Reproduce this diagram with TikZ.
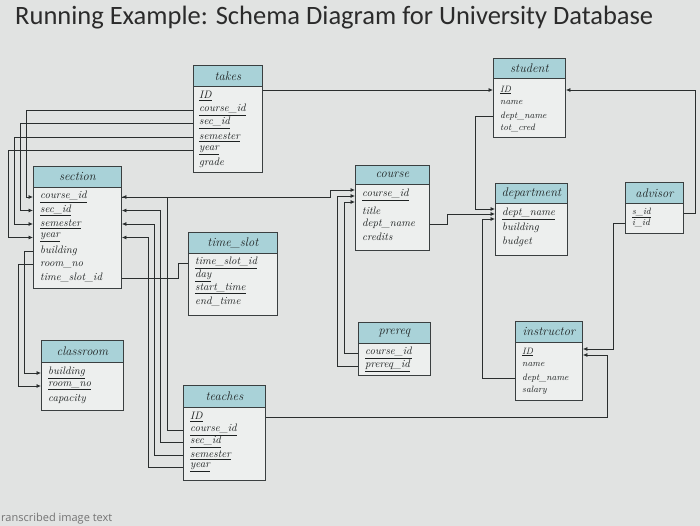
\documentclass[tikz,border=0pt]{standalone}
\usepackage{fontspec}
\newfontfamily\carlito{Carlito}
\newfontfamily\opensans{Open Sans}
\usetikzlibrary{arrows.meta}
\definecolor{bgc}{HTML}{E1E3E2}
\definecolor{headc}{HTML}{A9D2D8}
\definecolor{bodyc}{HTML}{EDEFEE}
\definecolor{boxc}{HTML}{3A3F40}
\definecolor{linec}{HTML}{2A2E2E}
\definecolor{txtc}{HTML}{1E2222}
\definecolor{titc}{HTML}{2B2B2B}
\tikzset{
  tbody/.style={draw=boxc, fill=bodyc, line width=0.9pt, inner sep=0pt, anchor=north west},
  thead/.style={draw=boxc, fill=headc, line width=0.9pt, inner sep=0pt, anchor=north west, text=txtc, font=\itshape\fontsize{12.5}{12.5}\selectfont},
  attr/.style={anchor=west, inner sep=0pt, text=txtc, font=\itshape\fontsize{10.8}{10.8}\selectfont},
  sattr/.style={attr, font=\itshape\fontsize{9.2}{9.2}\selectfont},
  fk/.style={draw=linec, line width=0.75pt, -{Latex[length=4.5pt,width=4pt]}},
  ln/.style={draw=linec, line width=0.75pt},
}
\begin{document}
\begin{tikzpicture}[x=1pt,y=-1pt]
\useasboundingbox (0,0) rectangle (700,526);
\fill[bgc] (0,0) rectangle (700,526);
\clip (0,0) rectangle (700,526);

\node[anchor=west, inner sep=0pt, text=titc, font=\carlito\fontsize{26.5}{26.5}\selectfont] (title) at (15,18) {Running Example: Schema Diagram for University Database};

% ---------- takes
\node[thead, minimum width=69pt, minimum height=21pt] (takes-h) at (193,65) {takes};
\node[tbody, minimum width=69pt, minimum height=86pt] (takes) at (193,86) {};
\node[attr] (tk-ID) at (199,96) {\underline{ID}};
\node[attr] (tk-cid) at (199,110) {\underline{course\_id}};
\node[attr] (tk-sid) at (199,123) {\underline{sec\_id}};
\node[attr] (tk-sem) at (199,137) {\underline{semester}};
\node[attr] (tk-yr) at (199,150) {\underline{year}};
\node[attr] (tk-gr) at (199,163) {grade};

% ---------- student
\node[thead, minimum width=72pt, minimum height=20pt] (student-h) at (493,58) {student};
\node[tbody, minimum width=72pt, minimum height=59pt] (student) at (493,78) {};
\node[sattr] (st-ID) at (500,90) {\underline{ID}};
\node[sattr] (st-nm) at (500,103) {name};
\node[sattr] (st-dn) at (500,116) {dept\_name};
\node[sattr] (st-tc) at (500,128) {tot\_cred};

% ---------- section
\node[thead, minimum width=88pt, minimum height=21pt] (section-h) at (33,166) {section};
\node[tbody, minimum width=88pt, minimum height=101pt] (section) at (33,187) {};
\node[attr] (se-cid) at (40,197) {\underline{course\_id}};
\node[attr] (se-sid) at (40,210.5) {\underline{sec\_id}};
\node[attr] (se-sem) at (40,224) {\underline{semester}};
\node[attr] (se-yr) at (40,237.5) {\underline{year}};
\node[attr] (se-bd) at (40,251) {building};
\node[attr] (se-rn) at (40,264.5) {room\_no};
\node[attr] (se-ts) at (40,278) {time\_slot\_id};

% ---------- course
\node[thead, minimum width=74pt, minimum height=19pt] (course-h) at (355,165) {course};
\node[tbody, minimum width=74pt, minimum height=66pt] (course) at (355,184) {};
\node[attr] (co-cid) at (362,195) {\underline{course\_id}};
\node[attr] (co-ti) at (362,211) {title};
\node[attr] (co-dn) at (362,224) {dept\_name};
\node[attr] (co-cr) at (362,237) {credits};

% ---------- department
\node[thead, minimum width=72pt, minimum height=20pt] (department-h) at (495,183) {department};
\node[tbody, minimum width=72pt, minimum height=52pt] (department) at (495,203) {};
\node[attr] (de-dn) at (502,214) {\underline{dept\_name}};
\node[attr] (de-bd) at (502,228) {building};
\node[attr] (de-bu) at (502,242) {budget};

% ---------- advisor
\node[thead, minimum width=58pt, minimum height=21pt] (advisor-h) at (625,182) {advisor};
\node[tbody, minimum width=58pt, minimum height=30pt] (advisor) at (625,203) {};
\node[sattr] (ad-s) at (632,213) {\underline{s\_id}};
\node[sattr] (ad-i) at (632,223) {i\_id};

% ---------- time_slot
\node[thead, minimum width=89pt, minimum height=21pt] (timeslot-h) at (188,232) {time\_slot};
\node[tbody, minimum width=89pt, minimum height=62pt] (timeslot) at (188,253) {};
\node[attr] (ts-id) at (195,263) {\underline{time\_slot\_id}};
\node[attr] (ts-dy) at (195,276) {\underline{day}};
\node[attr] (ts-st) at (195,289) {\underline{start\_time}};
\node[attr] (ts-et) at (195,302) {end\_time};

% ---------- prereq
\node[thead, minimum width=72pt, minimum height=21pt] (prereq-h) at (358,322) {prereq};
\node[tbody, minimum width=72pt, minimum height=32pt] (prereq) at (358,343) {};
\node[attr] (pr-cid) at (365,353) {\underline{course\_id}};
\node[attr] (pr-pid) at (365,366) {\underline{prereq\_id}};

% ---------- instructor
\node[thead, minimum width=67pt, minimum height=21pt] (instructor-h) at (515,321) {instructor};
\node[tbody, minimum width=67pt, minimum height=58pt] (instructor) at (515,342) {};
\node[sattr] (in-ID) at (522,352) {\underline{ID}};
\node[sattr] (in-nm) at (522,365) {name};
\node[sattr] (in-dn) at (522,378) {dept\_name};
\node[sattr] (in-sa) at (522,390) {salary};

% ---------- classroom
\node[thead, minimum width=82pt, minimum height=22pt] (classroom-h) at (41,340) {classroom};
\node[tbody, minimum width=82pt, minimum height=48pt] (classroom) at (41,362) {};
\node[attr] (cl-bd) at (48,373) {\underline{building}};
\node[attr] (cl-rn) at (48,386) {\underline{room\_no}};
\node[attr] (cl-ca) at (48,399) {capacity};

% ---------- teaches
\node[thead, minimum width=82pt, minimum height=22pt] (teaches-h) at (183,385) {teaches};
\node[tbody, minimum width=82pt, minimum height=73pt] (teaches) at (183,407) {};
\node[attr] (te-ID) at (190,417) {\underline{ID}};
\node[attr] (te-cid) at (190,430) {\underline{course\_id}};
\node[attr] (te-sid) at (190,442) {\underline{sec\_id}};
\node[attr] (te-sem) at (190,455) {\underline{semester}};
\node[attr] (te-yr) at (190,467) {\underline{year}};

% ---------- routing coordinates
\coordinate (x8) at (8,0);   \coordinate (x14) at (14,0);
\coordinate (x18) at (18,0); \coordinate (x20) at (20,0);
\coordinate (x24) at (24,0); \coordinate (x26) at (26,0);
\coordinate (x148) at (148,0); \coordinate (x154) at (154,0);
\coordinate (x160) at (160,0); \coordinate (x167) at (167,0);
\coordinate (x178) at (178,0); \coordinate (x330) at (330,0);
\coordinate (x337) at (337,0); \coordinate (x344) at (344,0);
\coordinate (x447) at (447,0); \coordinate (x475) at (475,0);
\coordinate (x482) at (482,0); \coordinate (x607) at (607,0);
\coordinate (x613) at (613,0); \coordinate (x695) at (695,0);
\coordinate (ca1) at (0,190); \coordinate (ca2) at (0,196); \coordinate (ca3) at (0,202);
\coordinate (da1) at (0,209); \coordinate (da2) at (0,214); \coordinate (da3) at (0,219);
\coordinate (ia1) at (0,349); \coordinate (ia2) at (0,355);

% ---------- connectors
% takes -> student
\draw[fk] (takes.east |- st-ID) -- (student.west |- st-ID);
% takes -> section
\draw[fk] (takes.west |- tk-cid) -- (x26 |- tk-cid) -- (x26 |- se-cid) -- (section.west |- se-cid);
\draw[fk] (takes.west |- tk-sid) -- (x20 |- tk-sid) -- (x20 |- se-sid) -- (section.west |- se-sid);
\draw[fk] (takes.west |- tk-sem) -- (x14 |- tk-sem) -- (x14 |- se-sem) -- (section.west |- se-sem);
\draw[fk] (takes.west |- tk-yr) -- (x8 |- tk-yr) -- (x8 |- se-yr) -- (section.west |- se-yr);
% section -> classroom
\draw[fk] (section.west |- se-bd) -- (x24 |- se-bd) -- (x24 |- cl-bd) -- (classroom.west |- cl-bd);
\draw[fk] (section.west |- se-rn) -- (x18 |- se-rn) -- (x18 |- cl-rn) -- (classroom.west |- cl-rn);
% section -> time_slot
\draw[ln] (section.east |- se-ts) -- (x178 |- se-ts) -- (x178 |- ts-id) -- (timeslot.west |- ts-id);
% teaches -> section
\draw[fk] (teaches.west |- te-cid) -- (x167 |- te-cid) -- (x167 |- se-cid) -- (section.east |- se-cid);
\draw[fk] (teaches.west |- te-sid) -- (x160 |- te-sid) -- (x160 |- se-sid) -- (section.east |- se-sid);
\draw[fk] (teaches.west |- te-sem) -- (x154 |- te-sem) -- (x154 |- se-sem) -- (section.east |- se-sem);
\draw[fk] (teaches.west |- te-yr) -- (x148 |- te-yr) -- (x148 |- se-yr) -- (section.east |- se-yr);
% section -> course
\draw[fk] (section.east |- se-cid) -- (x330 |- se-cid) -- (x330 |- ca1) -- (course.west |- ca1);
% prereq -> course
\draw[fk] (prereq.west |- pr-pid) -- (x337 |- pr-pid) -- (x337 |- ca2) -- (course.west |- ca2);
\draw[fk] (prereq.west |- pr-cid) -- (x344 |- pr-cid) -- (x344 |- ca3) -- (course.west |- ca3);
% -> department
\draw[fk] (student.west |- st-dn) -- (x475 |- st-dn) -- (x475 |- da1) -- (department.west |- da1);
\draw[fk] (course.east |- co-dn) -- (x447 |- co-dn) -- (x447 |- da2) -- (department.west |- da2);
\draw[fk] (instructor.west |- in-dn) -- (x482 |- in-dn) -- (x482 |- da3) -- (department.west |- da3);
% advisor
\draw[fk] (advisor.east |- ad-s) -- (x695 |- ad-s) -- (x695 |- st-ID) -- (student.east |- st-ID);
\draw[fk] (advisor.west |- ad-i) -- (x613 |- ad-i) -- (x613 |- ia1) -- (instructor.east |- ia1);
% teaches -> instructor
\draw[fk] (teaches.east |- te-ID) -- (x607 |- te-ID) -- (x607 |- ia2) -- (instructor.east |- ia2);

% caption fragment at the bottom edge
\node[anchor=west, inner sep=0pt, text=black!55, font=\opensans\fontsize{11}{11}\selectfont] (cap) at (1,519) {ranscribed image text};
\end{tikzpicture}
\end{document}
